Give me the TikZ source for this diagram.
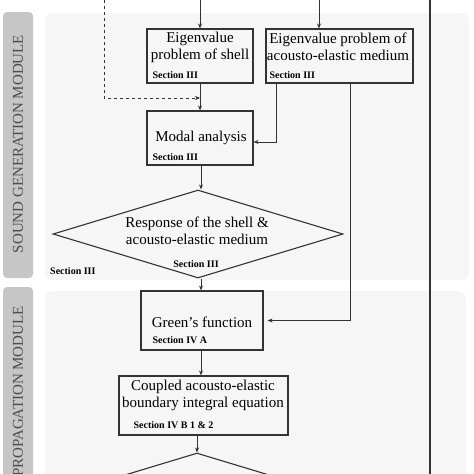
\documentclass[tikz,border=0pt]{standalone}
\usepackage{fontspec}
\setmainfont{Liberation Serif}
\usetikzlibrary{shapes.geometric, arrows.meta}
\definecolor{panel}{HTML}{F6F6F6}
\definecolor{bar}{HTML}{C6C6C6}
\definecolor{ink}{HTML}{333333}

\begin{document}
\begin{tikzpicture}[x=1pt, y=-1pt,
  box/.style = {draw=ink, line width=1.1pt, rectangle, inner sep=0pt},
  rhomb/.style = {draw=ink, line width=1.1pt, diamond, inner sep=0pt},
  txt/.style = {align=center, font=\fontsize{15}{17}\selectfont, inner sep=0pt},
  sec/.style = {font=\fontsize{10}{12}\selectfont\bfseries, inner sep=0pt, anchor=west},
  mod/.style = {rotate=90, text=black!70, font=\fontsize{15}{17}\selectfont, inner sep=0pt},
  arr/.style = {draw=ink, line width=0.9pt, -{Stealth[length=5pt, width=4pt]}}]
    \useasboundingbox (0,0) rectangle (474,474);
    \clip (0,0) rectangle (474,474);

    % module panels
    \fill[panel, rounded corners=8pt] (45,13) rectangle (469,280);
    \fill[panel, rounded corners=8pt] (45,291) rectangle (466,520);
    \fill[bar, rounded corners=4pt] (3,12) rectangle (33,278);
    \fill[bar, rounded corners=4pt] (3,287) rectangle (33,520);
    \node[mod] (gen) at (18,144) {SOUND GENERATION MODULE};
    \node[mod, anchor=east] (prop) at (18,306) {PROPAGATION MODULE};

    % boxes
    \node[box, minimum width=106pt, minimum height=54pt] (eigs) at (200,56) {};
    \node[box, minimum width=147pt, minimum height=54pt] (eigm) at (339.5,56) {};
    \node[box, minimum width=106pt, minimum height=54pt] (modal) at (200,138) {};
    \node[rhomb, minimum width=290pt, minimum height=88pt] (resp) at (198,234) {};
    \node[box, minimum width=122pt, minimum height=59pt] (green) at (202,320.5) {};
    \node[box, minimum width=169pt, minimum height=59pt] (coupled) at (203.5,405.5) {};
    \node[rhomb, minimum width=290pt, minimum height=88pt] (next) at (197,497) {};

    % texts
    \node[txt] (eigs-t) at (200,47.5) {Eigenvalue\\problem of shell};
    \node[txt] (eigm-t) at (338,46.5) {Eigenvalue problem of\\acousto-elastic medium};
    \node[txt] (modal-t) at (201,138) {Modal analysis};
    \node[txt] (resp-t) at (197,230.5) {Response of the shell \&\\acousto-elastic medium};
    \node[txt] (green-t) at (202,322) {Green’s function};
    \node[txt] (coupled-t) at (203,395.5) {Coupled acousto-elastic\\boundary integral equation};

    \node[sec] (eigs-s) at ([xshift=6pt,yshift=8pt]eigs.south west) {Section III};
    \node[sec] (eigm-s) at ([xshift=4pt,yshift=8pt]eigm.south west) {Section III};
    \node[sec] (modal-s) at ([xshift=6pt,yshift=8pt]modal.south west) {Section III};
    \node[sec, anchor=center] (resp-s) at (196,264) {Section III};
    \node[sec] (gen-s) at (50,271) {Section III};
    \node[sec] (green-s) at ([xshift=12pt,yshift=10pt]green.south west) {Section IV A};
    \node[sec] (coupled-s) at ([xshift=15pt,yshift=10pt]coupled.south west) {Section IV B 1 \& 2};

    % free ends
    \coordinate (in1) at (200,0);
    \coordinate (in2) at (319,0);
    \coordinate (in3) at (104,0);
    \coordinate (join) at (200,98);
    \coordinate (rtop) at (430,0);
    \coordinate (rbot) at (430,474);

    % connectors
    \draw[arr] (in1) -- (eigs.north);
    \draw[arr] (in2) -- (in2 |- eigm.north);
    \draw[arr, dashed] (in3) |- (join);
    \draw[arr] (eigs.south) -- (modal.north);
    \draw[arr] ([xshift=11pt]eigm.south west) |- ([yshift=-4pt]modal.east);
    \draw[arr] ([xshift=-63.5pt]eigm.south east) |- ([xshift=4pt]green.east);
    \draw[arr] ([xshift=1pt]modal.south) -- ([xshift=1pt]modal.south |- resp.north);
    \draw[arr] ([xshift=3pt]resp.south) -- ([xshift=3pt]resp.south |- green.north);
    \draw[arr] ([xshift=-1pt]green.south) -- ([xshift=-1pt]green.south |- coupled.north);
    \draw[arr] ([xshift=-6.5pt]coupled.south) -- ([xshift=-6.5pt]coupled.south |- next.north);
    \draw[ink, line width=1.1pt] (rtop) -- (rbot);
\end{tikzpicture}
\end{document}
